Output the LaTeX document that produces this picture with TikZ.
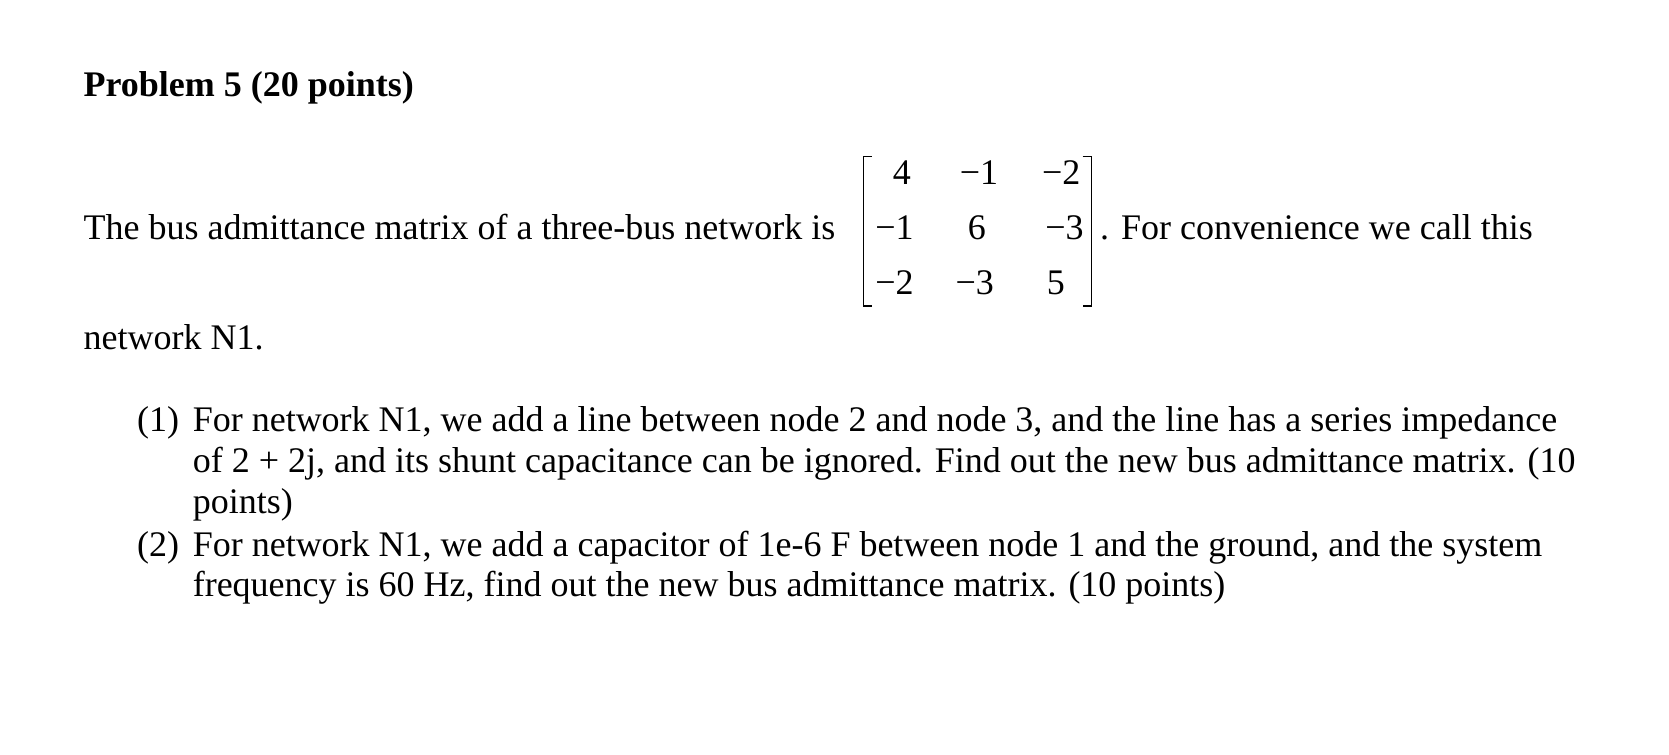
\documentclass[tikz,border=0pt]{standalone}
\usepackage{fontspec}
\setmainfont{Liberation Serif}
\begin{document}
\begin{tikzpicture}[x=1.07pt,y=-1.07pt,
  txt/.style={anchor=base west,inner sep=0pt,font=\fontsize{36}{43}\selectfont},
  ent/.style={anchor=base,inner sep=0pt,font=\fontsize{36}{43}\selectfont},
  brk/.style={line width=1.1pt}]
\useasboundingbox (0,0) rectangle (1560,705);
\node[txt,font=\bfseries\fontsize{36}{43}\selectfont] (title) at (78,90) {Problem 5 (20 points)};
\node[txt] (intro) at (78,224) {The bus admittance matrix of a three-bus network is};
\node[ent] (a11) at (843,172) {4};
\node[ent] (a12) at (915,172) {−1};
\node[ent] (a13) at (992,172) {−2};
\node[ent] (a21) at (836,224) {−1};
\node[ent] (a22) at (913,224) {6};
\node[ent] (a23) at (995,224) {−3};
\node[ent] (a31) at (836,275) {−2};
\node[ent] (a32) at (911,275) {−3};
\node[ent] (a33) at (987,275) {5};
\draw[brk] (815,146) -- (807,146) -- (807,286) -- (815,286);
\draw[brk] (1012,146) -- (1020,146) -- (1020,286) -- (1012,286);
\node[txt] (conv) at (1028,224) {. For convenience we call this};
\node[txt] (n1) at (78,327) {network N1.};
\node[txt] (l1) at (128,403) {(1)};
\node[txt] (t1) at (180,403) {For network N1, we add a line between node 2 and node 3, and the line has a series impedance};
\node[txt] (t2) at (180,442) {of 2 + 2j, and its shunt capacitance can be ignored. Find out the new bus admittance matrix. (10};
\node[txt] (t3) at (180,480) {points)};
\node[txt] (l2) at (128,520) {(2)};
\node[txt] (t4) at (180,520) {For network N1, we add a capacitor of 1e-6 F between node 1 and the ground, and the system};
\node[txt] (t5) at (180,558) {frequency is 60 Hz, find out the new bus admittance matrix. (10 points)};
\end{tikzpicture}
\end{document}
